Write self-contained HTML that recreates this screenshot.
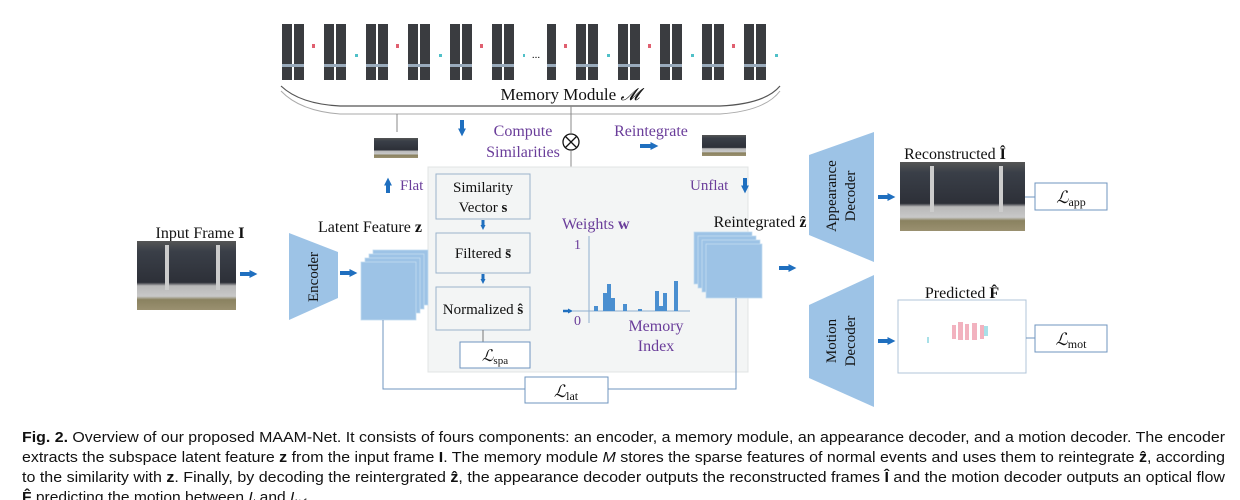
<!DOCTYPE html>
<html><head><meta charset="utf-8"><style>
body{margin:0;width:1240px;height:500px;background:#fff;overflow:hidden}
svg{display:block}
.t{font-family:"Liberation Serif",serif;fill:#111}
.p{font-family:"Liberation Serif",serif;fill:#6a3d9a}
.c{font-family:"Liberation Sans Narrow","Liberation Sans",sans-serif;fill:#111;font-size:15px}
</style></head><body>
<svg width="1240" height="500" viewBox="0 0 1240 500" xmlns="http://www.w3.org/2000/svg">
<defs>
<marker id="a" viewBox="0 0 10 10" refX="2" refY="5" markerUnits="userSpaceOnUse" markerWidth="8" markerHeight="9" orient="auto"><path d="M0,0L10,5L0,10z" fill="#1f6fbf"/></marker>
<marker id="s" viewBox="0 0 10 10" refX="2" refY="5" markerUnits="userSpaceOnUse" markerWidth="5" markerHeight="6" orient="auto"><path d="M0,0L10,5L0,10z" fill="#1f6fbf"/></marker>
<linearGradient id="scene" x1="0" y1="0" x2="0" y2="1">
<stop offset="0" stop-color="#555"/><stop offset="0.15" stop-color="#3a3f48"/><stop offset="0.6" stop-color="#2d3038"/><stop offset="0.65" stop-color="#b8b8b8"/><stop offset="0.8" stop-color="#c8c8c8"/><stop offset="0.85" stop-color="#8a8260"/><stop offset="1" stop-color="#9a9070"/>
</linearGradient>
<pattern id="strip" x="280" y="24" width="84" height="56" patternUnits="userSpaceOnUse">
<rect width="84" height="56" fill="#fff"/>
<rect x="2" width="10" height="56" fill="#3a3c40"/><rect x="14" width="10" height="56" fill="#3a3c40"/>
<rect x="44" width="10" height="56" fill="#3a3c40"/><rect x="56" width="10" height="56" fill="#3a3c40"/>
<rect x="2" y="40" width="22" height="3" fill="#9ab"/><rect x="44" y="40" width="22" height="3" fill="#9ab"/>
<rect x="32" y="20" width="3" height="4" fill="#e06070"/><rect x="75" y="30" width="3" height="3" fill="#50c0c8"/>
</pattern>
</defs>

<rect x="280" y="24" width="500" height="56" fill="url(#strip)"/>
<rect x="525" y="24" width="22" height="56" fill="#fff"/>
<text x="536" y="58" class="t" font-size="11" text-anchor="middle">...</text>
<path d="M281,86 Q300,104 340,106 L720,106 Q765,104 780,86" fill="none" stroke="#555" stroke-width="1.2"/>
<path d="M281,91 Q300,111 340,114 L720,114 Q765,111 780,91" fill="none" stroke="#aaa" stroke-width="1"/>
<text x="570" y="100" class="t" font-size="17" text-anchor="middle">Memory Module <tspan font-style="italic" font-family="DejaVu Serif">𝓜</tspan></text>
<line x1="397" y1="114" x2="397" y2="132" stroke="#888"/>
<line x1="571" y1="106" x2="571" y2="133" stroke="#888"/>
<line x1="571" y1="151" x2="571" y2="167" stroke="#888"/>
<circle cx="571" cy="142" r="8" fill="#fff" stroke="#111" stroke-width="1.3"/>
<path d="M565.5,136.5L576.5,147.5M576.5,136.5L565.5,147.5" stroke="#111" stroke-width="1.3"/>

<rect x="374" y="138" width="44" height="20" fill="url(#scene)"/>
<rect x="702" y="135" width="44" height="21" fill="url(#scene)"/>

<line x1="462" y1="120" x2="462" y2="130" stroke="#1f6fbf" stroke-width="4" marker-end="url(#a)"/>
<text x="523" y="136" class="p" font-size="16" text-anchor="middle">Compute</text>
<text x="523" y="157" class="p" font-size="16" text-anchor="middle">Similarities</text>
<text x="651" y="136" class="p" font-size="16" text-anchor="middle">Reintegrate</text>
<line x1="640" y1="146" x2="652" y2="146" stroke="#1f6fbf" stroke-width="4" marker-end="url(#a)"/>

<rect x="428" y="167" width="320" height="205" fill="#f3f5f5" stroke="#e2e4e4"/>
<rect x="436" y="174" width="94" height="45" fill="#f3f5f5" stroke="#9bb3cc"/>
<text x="483" y="192" class="t" font-size="15" text-anchor="middle">Similarity</text>
<text x="483" y="212" class="t" font-size="15" text-anchor="middle">Vector <tspan font-weight="bold">s</tspan></text>
<line x1="483" y1="220" x2="483" y2="226" stroke="#1f6fbf" stroke-width="3" marker-end="url(#s)"/>
<rect x="436" y="233" width="94" height="40" fill="#f3f5f5" stroke="#9bb3cc"/>
<text x="483" y="258" class="t" font-size="15" text-anchor="middle">Filtered  <tspan font-weight="bold">s̄</tspan></text>
<line x1="483" y1="274" x2="483" y2="280" stroke="#1f6fbf" stroke-width="3" marker-end="url(#s)"/>
<rect x="436" y="287" width="94" height="43" fill="#f3f5f5" stroke="#9bb3cc"/>
<text x="483" y="314" class="t" font-size="15" text-anchor="middle">Normalized  <tspan font-weight="bold">ŝ</tspan></text>
<line x1="483" y1="330" x2="483" y2="342" stroke="#777"/>
<rect x="460" y="342" width="70" height="26" fill="#fff" stroke="#6f94bf"/>
<text x="495" y="361" class="t" font-size="16" text-anchor="middle" font-style="italic">ℒ<tspan font-style="normal" font-size="11" dy="3">spa</tspan></text>

<text x="562" y="229" class="p" font-size="16">Weights <tspan font-weight="bold">w</tspan></text>
<line x1="589" y1="236" x2="589" y2="323" stroke="#8fb0d0"/>
<line x1="573" y1="311" x2="690" y2="311" stroke="#8fb0d0"/>
<text x="581" y="249" class="p" font-size="14" text-anchor="end">1</text>
<text x="581" y="325" class="p" font-size="14" text-anchor="end">0</text>
<line x1="563" y1="311" x2="569" y2="311" stroke="#1f6fbf" stroke-width="2.5" marker-end="url(#s)"/>
<g fill="#4a8fd0">
<rect x="594" y="306" width="4" height="5"/><rect x="603" y="293" width="4" height="18"/><rect x="607" y="284" width="4" height="27"/><rect x="611" y="298" width="4" height="13"/><rect x="623" y="304" width="4" height="7"/><rect x="638" y="309" width="4" height="2"/><rect x="655" y="291" width="4" height="20"/><rect x="659" y="306" width="4" height="5"/><rect x="663" y="293" width="4" height="18"/><rect x="674" y="281" width="4" height="30"/>
</g>
<text x="656" y="331" class="p" font-size="16" text-anchor="middle">Memory</text>
<text x="656" y="351" class="p" font-size="16" text-anchor="middle">Index</text>

<line x1="388" y1="193" x2="388" y2="184" stroke="#1f6fbf" stroke-width="4" marker-end="url(#a)"/>
<text x="400" y="190" class="p" font-size="15">Flat</text>
<text x="690" y="190" class="p" font-size="15">Unflat</text>
<line x1="745" y1="178" x2="745" y2="187" stroke="#1f6fbf" stroke-width="4" marker-end="url(#a)"/>

<text x="200" y="238" class="t" font-size="16" text-anchor="middle">Input Frame <tspan font-weight="bold">I</tspan></text>
<rect x="137" y="241" width="99" height="69" fill="url(#scene)"/>
<rect x="165" y="245" width="4" height="45" fill="#ccc"/><rect x="216" y="245" width="4" height="45" fill="#ccc"/>
<line x1="240" y1="274" x2="251" y2="274" stroke="#1f6fbf" stroke-width="4" marker-end="url(#a)"/>
<polygon points="289,233 338,252 338,298 289,320" fill="#9dc3e6"/>
<text transform="translate(318,277) rotate(-90)" class="t" font-size="15" text-anchor="middle">Encoder</text>
<line x1="340" y1="273" x2="351" y2="273" stroke="#1f6fbf" stroke-width="4" marker-end="url(#a)"/>
<text x="370" y="232" class="t" font-size="16" text-anchor="middle">Latent Feature <tspan font-weight="bold">z</tspan></text>
<g fill="#9dc3e6" stroke="#c4dcf0" stroke-width="0.8">
<rect x="373" y="250" width="55" height="55"/><rect x="369" y="254" width="55" height="55"/><rect x="365" y="258" width="55" height="55"/><rect x="361" y="262" width="55" height="58"/>
</g>
<text x="760" y="227" class="t" font-size="16" text-anchor="middle">Reintegrated  <tspan font-weight="bold">ẑ</tspan></text>
<g fill="#9dc3e6" stroke="#c4dcf0" stroke-width="0.8">
<rect x="694" y="232" width="58" height="52"/><rect x="698" y="236" width="58" height="52"/><rect x="702" y="240" width="58" height="52"/><rect x="706" y="244" width="56" height="54"/>
</g>
<polyline points="383,320 383,389 525,389" fill="none" stroke="#6f94bf"/>
<polyline points="608,389 736,389 736,298" fill="none" stroke="#6f94bf"/>
<rect x="525" y="377" width="83" height="26" fill="#fff" stroke="#6f94bf"/>
<text x="566" y="397" class="t" font-size="17" text-anchor="middle" font-style="italic">ℒ<tspan font-style="normal" font-size="12" dy="3">lat</tspan></text>
<line x1="779" y1="268" x2="790" y2="268" stroke="#1f6fbf" stroke-width="4" marker-end="url(#a)"/>

<polygon points="809,155 874,132 874,262 809,235" fill="#9dc3e6"/>
<text transform="translate(836,196) rotate(-90)" class="t" font-size="15" text-anchor="middle">Appearance</text>
<text transform="translate(855,196) rotate(-90)" class="t" font-size="15" text-anchor="middle">Decoder</text>
<polygon points="809,305 874,275 874,407 809,378" fill="#9dc3e6"/>
<text transform="translate(836,341) rotate(-90)" class="t" font-size="15" text-anchor="middle">Motion</text>
<text transform="translate(855,341) rotate(-90)" class="t" font-size="15" text-anchor="middle">Decoder</text>
<line x1="878" y1="197" x2="889" y2="197" stroke="#1f6fbf" stroke-width="4" marker-end="url(#a)"/>
<line x1="878" y1="341" x2="889" y2="341" stroke="#1f6fbf" stroke-width="4" marker-end="url(#a)"/>
<text x="955" y="159" class="t" font-size="16" text-anchor="middle">Reconstructed <tspan font-weight="bold">Î</tspan></text>
<rect x="900" y="162" width="125" height="69" fill="url(#scene)"/>
<rect x="930" y="166" width="4" height="46" fill="#ccc"/><rect x="999" y="166" width="4" height="46" fill="#ccc"/>
<line x1="1025" y1="197" x2="1035" y2="197" stroke="#6f94bf"/>
<rect x="1035" y="183" width="72" height="27" fill="#fff" stroke="#6f94bf"/>
<text x="1071" y="203" class="t" font-size="17" text-anchor="middle" font-style="italic">ℒ<tspan font-style="normal" font-size="12" dy="3">app</tspan></text>
<text x="962" y="298" class="t" font-size="16" text-anchor="middle">Predicted <tspan font-weight="bold">F̂</tspan></text>
<rect x="898" y="300" width="128" height="73" fill="#fff" stroke="#b0c4d8"/>
<g fill="#f0a0b0" opacity="0.8"><rect x="952" y="325" width="4" height="14"/><rect x="958" y="322" width="5" height="18"/><rect x="965" y="324" width="4" height="16"/><rect x="972" y="323" width="5" height="17"/><rect x="980" y="325" width="4" height="14"/></g>
<rect x="984" y="326" width="4" height="10" fill="#a8e0e8"/><rect x="927" y="337" width="2" height="6" fill="#a8e0e8"/>
<line x1="1026" y1="338" x2="1035" y2="338" stroke="#6f94bf"/>
<rect x="1035" y="325" width="72" height="27" fill="#fff" stroke="#6f94bf"/>
<text x="1071" y="345" class="t" font-size="17" text-anchor="middle" font-style="italic">ℒ<tspan font-style="normal" font-size="12" dy="3">mot</tspan></text>

<text x="22" y="442" class="c" textLength="1203" lengthAdjust="spacingAndGlyphs"><tspan font-weight="bold">Fig. 2.</tspan> Overview of our proposed MAAM-Net. It consists of fours components: an encoder, a memory module, an appearance decoder, and a motion decoder. The encoder</text>
<text x="22" y="462" class="c" textLength="1203" lengthAdjust="spacingAndGlyphs">extracts the subspace latent feature <tspan font-weight="bold">z</tspan> from the input frame <tspan font-weight="bold">I</tspan>. The memory module <tspan font-style="italic">M</tspan> stores the sparse features of normal events and uses them to reintegrate <tspan font-weight="bold">ẑ</tspan>, according</text>
<text x="22" y="482" class="c" textLength="1203" lengthAdjust="spacingAndGlyphs">to the similarity with <tspan font-weight="bold">z</tspan>. Finally, by decoding the reintergrated <tspan font-weight="bold">ẑ</tspan>, the appearance decoder outputs the reconstructed frames <tspan font-weight="bold">Î</tspan> and the motion decoder outputs an optical flow</text>
<text x="22" y="502" class="c" textLength="290" lengthAdjust="spacingAndGlyphs"><tspan font-weight="bold">F̂</tspan> predicting the motion between <tspan font-style="italic">I<tspan font-size="9" dy="3">t</tspan></tspan><tspan dy="-3"> and </tspan><tspan font-style="italic">I<tspan font-size="9" dy="3">t+1</tspan></tspan>.</text>
</svg>
</body></html>
